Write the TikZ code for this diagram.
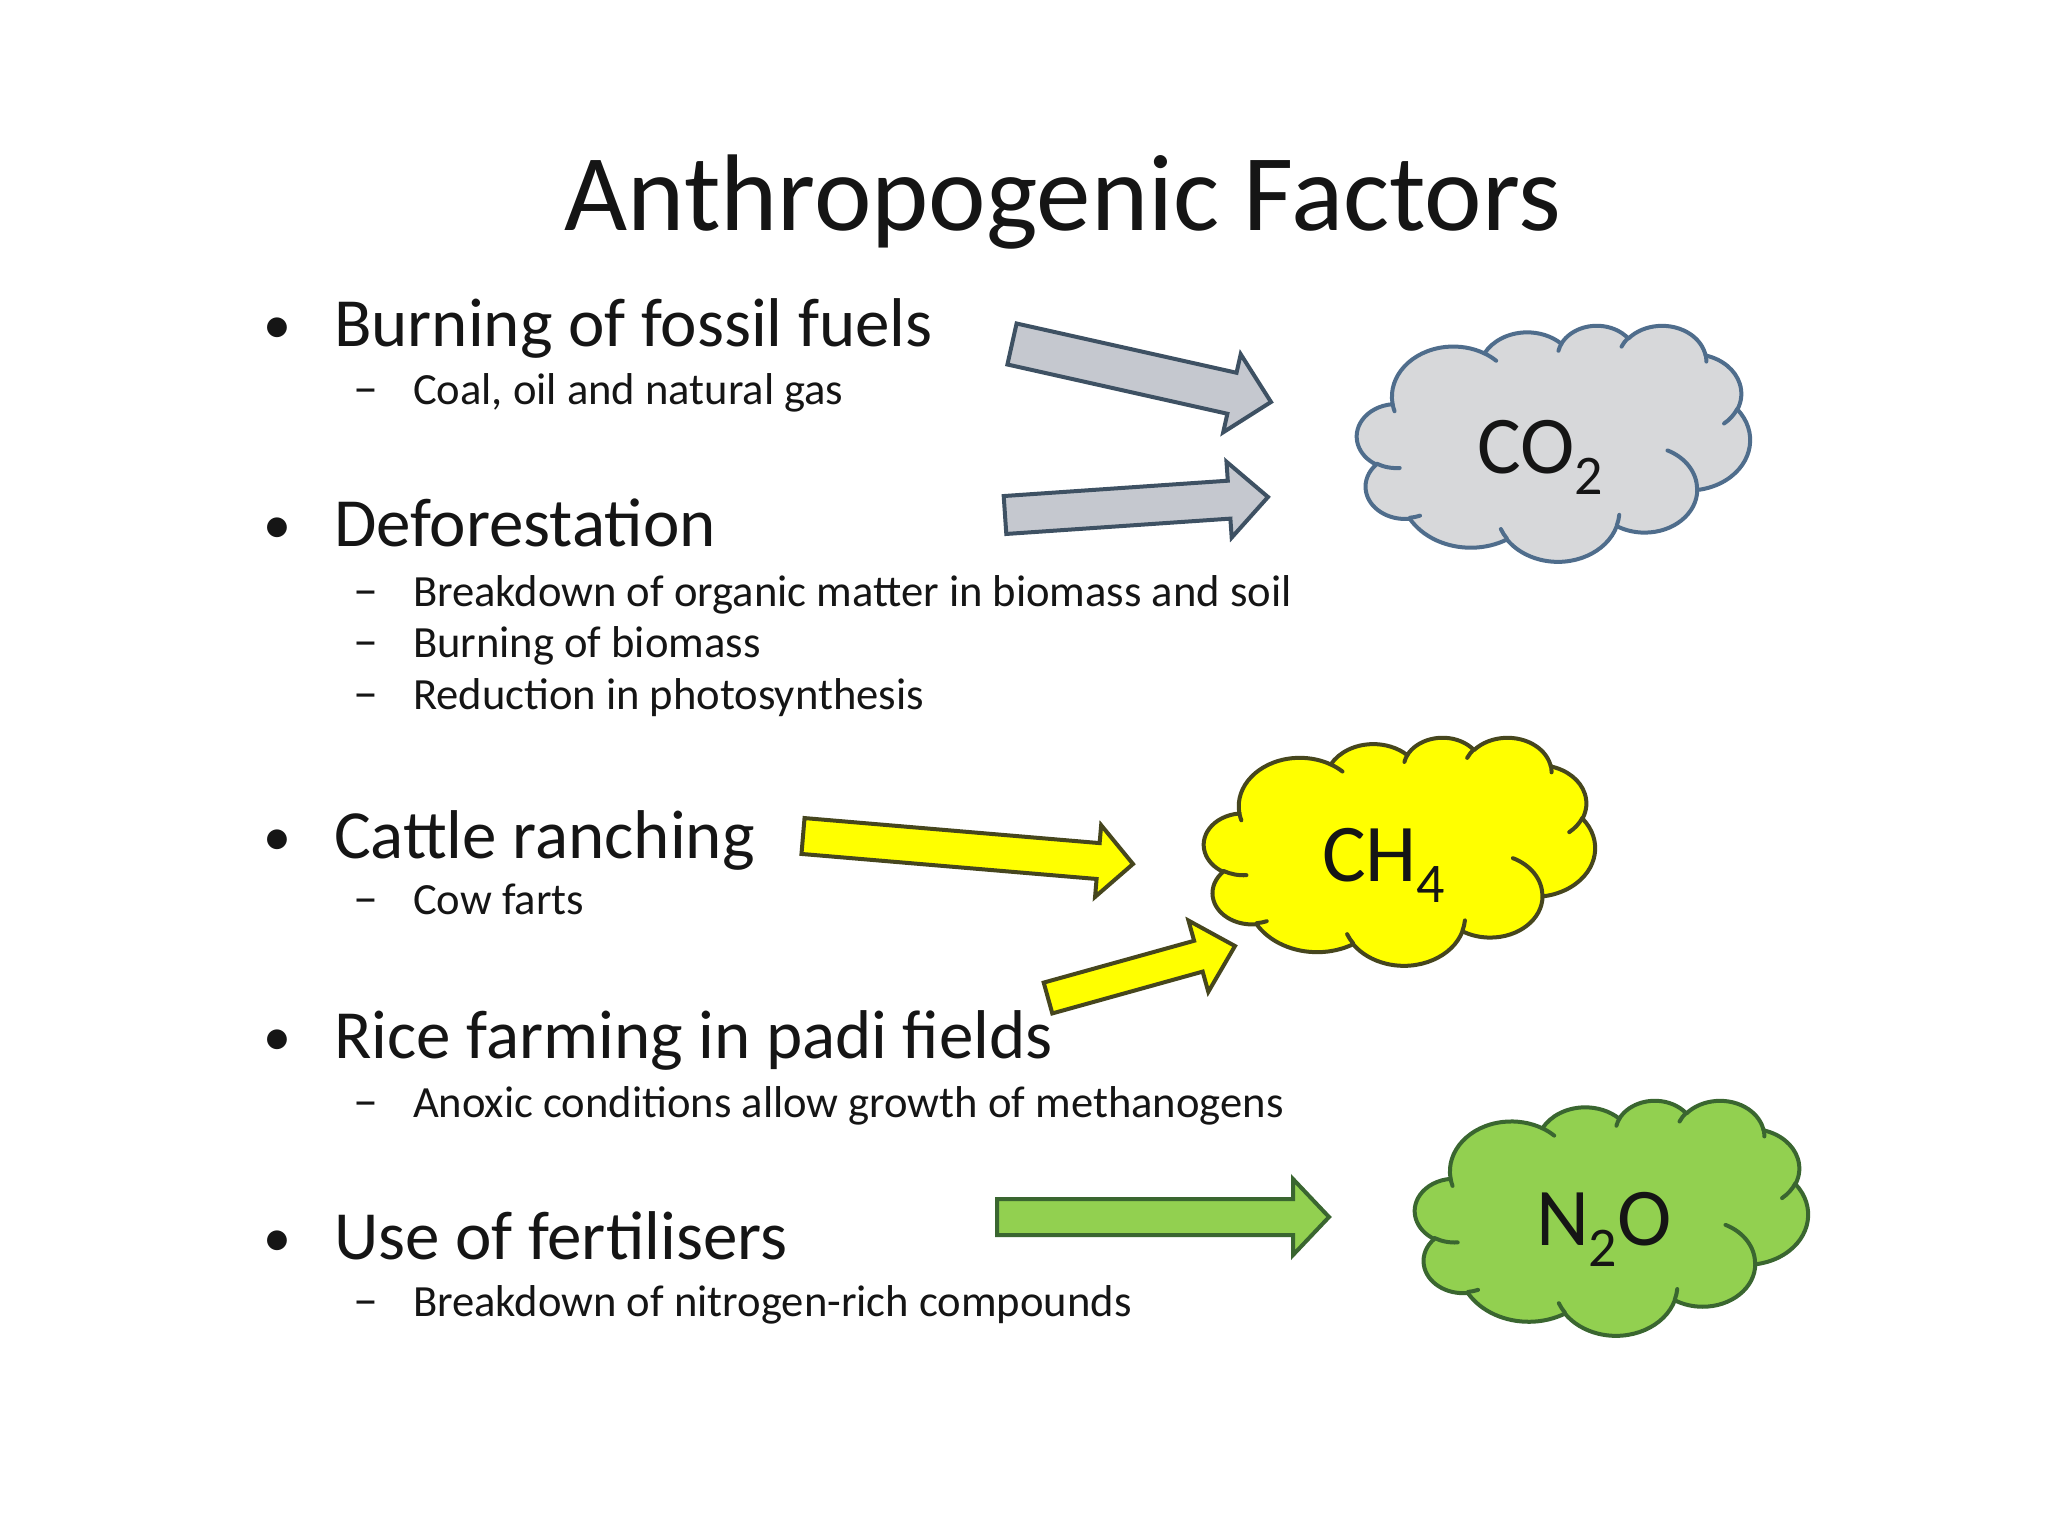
\documentclass[tikz,border=0pt]{standalone}
\usepackage{fontspec}
\setmainfont{Carlito}
\usetikzlibrary{calc}
\definecolor{txt}{HTML}{151515}
\definecolor{grayfill}{HTML}{C5C8CF}
\definecolor{graydraw}{HTML}{3E5163}
\definecolor{cofill}{HTML}{D7D8DA}
\definecolor{codraw}{HTML}{4F6D8C}
\definecolor{yelfill}{HTML}{FFFF00}
\definecolor{yeldraw}{HTML}{46461E}
\definecolor{grnfill}{HTML}{92D050}
\definecolor{grndraw}{HTML}{3A6630}
% #1 start, #2 end, #3 shaft half width, #4 head half width, #5 head length, #6 style
\newcommand{\blockarrow}[6]{%
  \path[#6] let \p1=(#1), \p2=(#2),
    \n1={atan2(\y2-\y1,\x2-\x1)}, \n2={veclen(\x2-\x1,\y2-\y1)} in
    [shift={(\p1)}, rotate=\n1]
    (0pt,-#3) -- ({\n2-#5},-#3) -- ({\n2-#5},-#4) -- (\n2,0pt)
    -- ({\n2-#5},#4) -- ({\n2-#5},#3) -- (0pt,#3) -- cycle;}
% elliptical arc with DrawingML-style (visual) angles: wR hR stAng swAng
\newcommand{\ooarc}[4]{%
  \pgfextra{%
    \pgfmathsetmacro{\tA}{atan2((#1)*sin(#3),(#2)*cos(#3))}%
    \pgfmathsetmacro{\tB}{atan2((#1)*sin((#3)+(#4)),(#2)*cos((#3)+(#4)))}%
    \pgfmathsetmacro{\dd}{\tB-\tA+360*round(((#4)-(\tB-\tA))/360)}}%
  arc[x radius=#1, y radius=#2, start angle=\tA, delta angle=\dd]}
% cloud: #1 x0, #2 y0, #3 width, #4 height, #5 fill, #6 draw
\newcommand{\gascloud}[6]{%
  \begin{scope}[shift={(#1,#2)}, x={#3/432*1pt}, y={-#4/432*1pt},
      line width=4pt, line join=round, line cap=round]
    \path[fill=#5, draw=#6] (39.00,143.70)
      \ooarc{67.53}{91.90}{-190.4875}{123.7805}
      \ooarc{53.33}{72.67}{-144.1024}{89.9452}
      \ooarc{43.65}{59.45}{-145.8079}{99.7230}
      \ooarc{48.57}{65.95}{-130.9861}{117.2417}
      \ooarc{53.33}{72.73}{-78.7089}{109.0269}
      \ooarc{67.75}{92.20}{-46.2673}{130.2690}
      \ooarc{57.85}{78.67}{0.6250}{114.0333}
      \ooarc{67.52}{92.15}{22.4584}{115.1726}
      \ooarc{77.20}{105.43}{66.2426}{75.7110}
      \ooarc{43.60}{59.18}{-274.9421}{146.7356}
      \ooarc{43.45}{59.45}{-246.8285}{152.5189} -- cycle;
    \path[draw=#6]
      (46.93,261.77) \ooarc{43.45}{59.45}{86.7420}{26.4295}
      (69.28,348.99) \ooarc{43.60}{59.18}{73.6105}{11.4475}
      (164.78,390.90) \ooarc{67.52}{92.15}{137.6242}{14.0811}
      (288.27,347.51) \ooarc{67.52}{92.15}{6.4533}{15.9984}
      (341.29,229.54) \ooarc{57.85}{78.67}{-70.2924}{70.9174}
      (417.98,153.54) \ooarc{53.33}{72.73}{30.3180}{27.7515}
      (383.24,54.26) \ooarc{48.57}{65.95}{-13.7443}{14.8589}
      (290.78,39.52) \ooarc{48.57}{65.95}{-149.1815}{18.1954}
      (221.41,47.20) \ooarc{43.65}{59.45}{-163.4943}{17.6864}
      (140.00,51.92) \ooarc{67.53}{91.90}{-66.7070}{12.3194}
      (41.27,157.89) \ooarc{67.53}{91.90}{157.6544}{11.8582};
  \end{scope}}
\tikzset{
  lvlone/.style={anchor=base west, inner sep=0pt, outer sep=0pt, text=txt,
    font=\fontsize{69}{80}\selectfont},
  lvltwo/.style={anchor=base west, inner sep=0pt, outer sep=0pt, text=txt,
    font=\fontsize{44.6}{52}\selectfont},
  bulletmark/.style={anchor=base, inner sep=0pt, text=txt,
    font=\fontsize{56}{60}\selectfont},
  dashmark/.style={anchor=base, inner sep=0pt, text=txt,
    font=\fontsize{50}{52}\selectfont},
  gaslabel/.style={anchor=base west, inner sep=0pt, outer sep=0pt, text=txt,
    font=\fontsize{82}{90}\selectfont},
  grayarrow/.style={fill=grayfill, draw=graydraw, line width=4pt, line join=miter},
  yelarrow/.style={fill=yelfill, draw=yeldraw, line width=4pt, line join=miter},
  grnarrow/.style={fill=grnfill, draw=grndraw, line width=4pt, line join=miter},
}
\newcommand{\subsc}[1]{\raisebox{-21pt}{\fontsize{56}{60}\selectfont #1}}
\begin{document}
\begin{tikzpicture}[x=1pt,y=-1pt]
\useasboundingbox[fill=white] (0,0) rectangle (2048,1536);

% title
\node[anchor=base, inner sep=0pt, text=txt, font=\fontsize{109}{120}\selectfont]
  (title) at (1063,230) {Anthropogenic Factors};

% bullets
\node[bulletmark] (m1) at (277,343) {•};
\node[lvlone] (t1) at (334,346) {Burning of fossil fuels};
\node[dashmark] (d1) at (366,404) {–};
\node[lvltwo] (s1) at (413,404) {Coal, oil and natural gas};

\node[bulletmark] (m2) at (277,543) {•};
\node[lvlone] (t2) at (334,546) {Deforestation};
\node[dashmark] (d2a) at (366,606) {–};
\node[lvltwo] (s2a) at (413,606) {Breakdown of organic matter in biomass and soil};
\node[dashmark] (d2b) at (366,657) {–};
\node[lvltwo] (s2b) at (413,657) {Burning of biomass};
\node[dashmark] (d2c) at (366,709) {–};
\node[lvltwo] (s2c) at (413,709) {Reduction in photosynthesis};

\node[bulletmark] (m3) at (277,855) {•};
\node[lvlone] (t3) at (334,858) {Cattle ranching};
\node[dashmark] (d3) at (366,914) {–};
\node[lvltwo] (s3) at (413,914) {Cow farts};

\node[bulletmark] (m4) at (277,1055) {•};
\node[lvlone] (t4) at (334,1058) {Rice farming in padi fields};
\node[dashmark] (d4) at (366,1117) {–};
\node[lvltwo] (s4) at (413,1117) {Anoxic conditions allow growth of methanogens};

\node[bulletmark] (m5) at (277,1256) {•};
\node[lvlone] (t5) at (334,1259) {Use of fertilisers};
\node[dashmark] (d5) at (366,1316) {–};
\node[lvltwo] (s5) at (413,1316) {Breakdown of nitrogen-rich compounds};

% clouds
\gascloud{1357}{325}{393}{236}{cofill}{codraw}
\gascloud{1204}{737}{391}{228}{yelfill}{yeldraw}
\gascloud{1415}{1100}{393}{235}{grnfill}{grndraw}
\node[gaslabel] (co2) at (1477,473) {CO\subsc{2}};
\node[gaslabel] (ch4) at (1322,881) {CH\subsc{4}};
\node[gaslabel] (n2o) at (1536,1245) {N\subsc{2}O};

% arrow end points
\coordinate (a1s) at (1012,344); \coordinate (a1e) at (1271,402);
\coordinate (a2s) at (1005,515); \coordinate (a2e) at (1268,497);
\coordinate (a3s) at (803,836);  \coordinate (a3e) at (1133,864);
\coordinate (a4s) at (1048,998); \coordinate (a4e) at (1235,946);
\coordinate (a5s) at (997,1217); \coordinate (a5e) at (1329,1217);

\blockarrow{a1s}{a1e}{21pt}{40pt}{40pt}{grayarrow}
\blockarrow{a2s}{a2e}{19pt}{38pt}{39pt}{grayarrow}
\blockarrow{a3s}{a3e}{18pt}{36pt}{35pt}{yelarrow}
\blockarrow{a4s}{a4e}{16pt}{37pt}{38pt}{yelarrow}
\blockarrow{a5s}{a5e}{18pt}{38pt}{36pt}{grnarrow}
\end{tikzpicture}
\end{document}
